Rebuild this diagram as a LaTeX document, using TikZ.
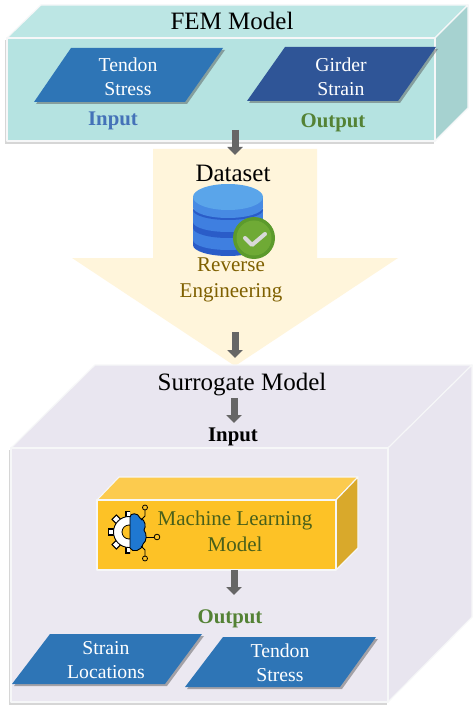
\documentclass[tikz,border=0pt]{standalone}
\usepackage{fontspec}
\setmainfont{Liberation Serif}
\usetikzlibrary{shadows,arrows.meta,calc}
\definecolor{teal1}{HTML}{B5E3E1}
\definecolor{teal2}{HTML}{BCE6E4}
\definecolor{teal3}{HTML}{A6D2D0}
\definecolor{lav1}{HTML}{EBE8F1}
\definecolor{lav2}{HTML}{E9E6F0}
\definecolor{lav3}{HTML}{E8E5EF}
\definecolor{gold1}{HTML}{FDC226}
\definecolor{gold2}{HTML}{FCCB4E}
\definecolor{gold3}{HTML}{D9A92B}
\definecolor{cream}{HTML}{FFF5DB}
\definecolor{blue1}{HTML}{2E75B6}
\definecolor{blue2}{HTML}{2F5597}
\definecolor{inblue}{HTML}{4472B8}
\definecolor{outgreen}{HTML}{548235}
\definecolor{brown1}{HTML}{7F6000}
\definecolor{mlgreen}{HTML}{49601A}
\definecolor{arrowgrey}{HTML}{666666}
\definecolor{edge}{HTML}{F6F7F8}
\definecolor{dbtop}{HTML}{5AA5EA}
\definecolor{dbside}{HTML}{3F7FE0}
\definecolor{dbdark}{HTML}{2A5CC8}
\definecolor{brainblue}{HTML}{1F78D1}
\definecolor{okring}{HTML}{5C9A2C}
\definecolor{okfill}{HTML}{6FAA35}
\tikzset{
  x=1pt,y=-1pt,
  face/.style={draw=edge,line width=1.1pt,line join=round},
  para/.style={fill=#1,drop shadow={shadow xshift=2pt,shadow yshift=-2pt,fill=black!70,opacity=.45}},
  plabel/.style={text=white,font=\fontsize{19.7}{24}\selectfont,align=center},
  biglabel/.style={text=black,font=\fontsize{25}{28}\selectfont},
  boldlabel/.style={font=\fontsize{20.8}{24}\selectfont\bfseries},
  flowarrow/.style={draw=arrowgrey,line width=7pt,-{Triangle[width=15pt,length=8pt]}},
  softshadow/.style={fill=black!16},
}
\begin{document}
\begin{tikzpicture}
\useasboundingbox (0,0) rectangle (474,708);
\fill[white] (0,0) rectangle (474,708);
% big cream arrow
\path[fill=cream] (153,149) -- (317,149) -- (317,258) -- (398,258) -- (235,366) -- (72,258) -- (153,258) -- cycle;
% FEM box
\path[softshadow] (5,40) rectangle (434,144);
\path[face,fill=teal2] (7,38) -- (41,5) -- (468,5) -- (435,38) -- cycle;
\path[face,fill=teal3] (435,38) -- (468,5) -- (468,108) -- (435,141) -- cycle;
\path[face,fill=teal1] (7,38) rectangle (435,141);
\node[biglabel] (fem) at (232,20.5) {FEM Model};
\path[para=blue1] (71,48) -- (223,48) -- (185,102) -- (34,102) -- cycle;
\node[plabel] (ts1) at (128,77) {Tendon\\Stress};
\path[para=blue2] (285,47) -- (436,47) -- (398,101) -- (247,101) -- cycle;
\node[plabel] (gs) at (341,76.5) {Girder\\Strain};
\node[boldlabel,text=inblue] (in1) at (113,121) {Input};
\node[boldlabel,text=outgreen] (out1) at (333,123) {Output};
\coordinate (a1s) at (235,130);
\coordinate (a1e) at (235,155);
\draw[flowarrow] (a1s) -- (a1e);
% dataset
\node[biglabel] (ds) at (233,173) {Dataset};
% db icon
\fill[dbdark] (228,245) ellipse[x radius=35pt,y radius=11pt];
\fill[dbdark] (193,232) rectangle (263,245);
\fill[dbside] (228,240) ellipse[x radius=35pt,y radius=10pt];
\fill[dbside] (193,228) rectangle (263,240);
\fill[dbdark] (228,228) ellipse[x radius=35pt,y radius=10pt];
\fill[dbdark] (193,220) rectangle (263,228);
\fill[dbside] (228,222) ellipse[x radius=35pt,y radius=10pt];
\fill[dbside] (193,210) rectangle (263,222);
\fill[dbdark] (228,210) ellipse[x radius=35pt,y radius=10pt];
\fill[dbside!70!dbtop] (228,207) ellipse[x radius=35pt,y radius=11pt];
\fill[dbside!70!dbtop] (193,197) rectangle (263,207);
\fill[dbtop] (228,197) ellipse[x radius=35pt,y radius=13pt];
\fill[okring] (254,238) circle (21pt);
\fill[okfill] (254,238) circle (17.5pt);
\draw[white!85!black,line width=4pt,line cap=round,line join=round] (245,238) -- (252,245) -- (265,234);
\node[font=\fontsize{21}{26}\selectfont,text=brown1,align=center] (re) at (231,280) {Reverse\\Engineering};
\coordinate (a2s) at (235,332);
\coordinate (a2e) at (235,358);
\draw[flowarrow] (a2s) -- (a2e);
% surrogate
\path[softshadow] (9,450) rectangle (387,705);
\path[face,fill=lav2] (11,448) -- (95,365) -- (472,365) -- (388,448) -- cycle;
\path[face,fill=lav3] (388,448) -- (472,365) -- (472,617) -- (388,702) -- cycle;
\path[face,fill=lav1] (11,448) rectangle (388,702);
\node[biglabel] (sm) at (242,384.5) {Surrogate Model};
\coordinate (a3s) at (234,398);
\coordinate (a3e) at (234,423);
\draw[flowarrow] (a3s) -- (a3e);
\node[boldlabel,text=black] (in2) at (233,436.5) {Input};
% ML box
\path[face,fill=gold2] (97,500) -- (119,477) -- (358,477) -- (336,500) -- cycle;
\path[face,fill=gold3] (336,500) -- (358,477) -- (358,548) -- (336,570) -- cycle;
\path[face,fill=gold1] (97,500) rectangle (336,570);
\node[font=\fontsize{21}{25.5}\selectfont,text=mlgreen,align=center] (ml) at (235,531.5) {Machine Learning\\Model};
% ML icon: gear (left half) and brain
\begin{scope}
\clip (100,505) rectangle (130,560);
\foreach \a in {0,45,...,315}
  \fill[black,shift={(129,532)},rotate=\a] (-3.6,15) rectangle (3.6,21.5);
\foreach \a in {0,45,...,315}
  \fill[white,shift={(129,532)},rotate=\a] (-2.4,14) rectangle (2.4,20.3);
\draw[black,fill=white,line width=.9pt] (129,532) circle (15.5pt);
\fill[gold1] (129,532) circle (7pt);
\draw[black,line width=.8pt] (129,532) circle (7pt);
\end{scope}
\draw[black,line width=.9pt,fill=brainblue] (130,517) .. controls (130,513) and (138,512) .. (140,518) .. controls (146,520) and (146,527) .. (144,530) .. controls (147,534) and (147,541) .. (143,544) .. controls (142,551) and (132,553) .. (130,548) -- cycle;
\draw[black,line width=.8pt] (141,520) -- (145,516) -- (145,510);
\draw[black,fill=gold1,line width=.8pt] (145,507.5) circle (2.5pt);
\draw[black,line width=.8pt] (146,537) -- (154,537);
\draw[black,fill=gold1,line width=.8pt] (157,537) circle (2.8pt);
\draw[black,line width=.8pt] (141,546) -- (145,550) -- (145,556);
\draw[black,fill=gold1,line width=.8pt] (145,558.5) circle (2.5pt);
\coordinate (a4s) at (234,570);
\coordinate (a4e) at (234,595);
\draw[flowarrow] (a4s) -- (a4e);
\node[boldlabel,text=outgreen] (out2) at (230,618.5) {Output};
\path[para=blue1] (50,634) -- (202,634) -- (165,684) -- (12,684) -- cycle;
\node[plabel] (sl) at (106,660) {Strain\\Locations};
\path[para=blue1] (223,637) -- (376,637) -- (340,687) -- (185,687) -- cycle;
\node[plabel] (ts2) at (280,663) {Tendon\\Stress};
\end{tikzpicture}
\end{document}
